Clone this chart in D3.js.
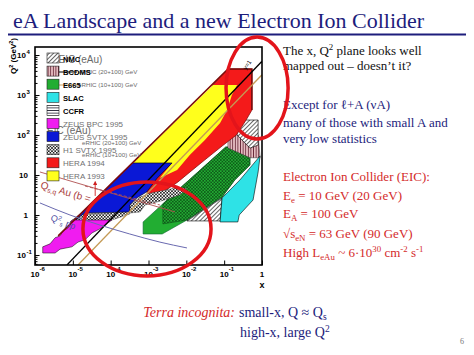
<!DOCTYPE html>
<html><head><meta charset="utf-8">
<script src="https://cdn.jsdelivr.net/npm/d3@7"></script>
<style>body{margin:0;background:#fff;}svg{display:block;}</style>
</head><body>
<svg id="c" width="474" height="355"></svg>
<script>
// ---------------- data ----------------
const xDomain = [1e-6, 1];
const yDomain = [0.0562, 15850];
const xTickValues = [1e-6, 1e-5, 1e-4, 1e-3, 1e-2, 1e-1, 1];
const xTickLabels = [["10","-6"],["10","-5"],["10","-4"],["10","-3"],["10","-2"],["10","-1"],["1",""]];
const yTickValues = [0.1, 1, 10, 100, 1000, 10000];
const yTickLabels = [["10","-1"],["1",""],["10",""],["10","2"],["10","3"],["10","4"]];

const legendLabels = ["NMC","BCDMS","E665","SLAC","CCFR","ZEUS BPC 1995","ZEUS SVTX 1995","H1 SVTX 1995","HERA 1994","HERA 1993"];

// measured regions in (x, Q^2 [GeV^2])
const e665 = [[7.2e-4,0.67],[2.7e-3,2.1],[6e-3,4.2],[0.11,50],[0.48,50],[0.48,17.8],[0.19,7.5],[8.8e-2,2.8],[1.04e-2,0.75],[2.3e-3,0.335],[7.2e-4,0.335]];
const e665Overlap = [[2.4e-3,1.9],[6e-3,4.2],[0.11,50],[0.48,50],[0.48,17.8],[0.19,7.5],[8.8e-2,2.8],[1.04e-2,0.75],[2.4e-3,0.6]];
const nmcLow = [[1.04e-2,0.71],[7.8e-2,0.71],[8.8e-2,2.66]];
const nmcHigh = [[0.22,237],[0.79,237],[0.79,56],[0.48,47],[0.22,100]];
const bcdms = [[0.126,100],[0.79,100],[0.89,27],[0.48,27],[0.126,47]];
const slac = [[7.8e-2,0.67],[8.8e-2,2.66],[0.26,7.5],[0.89,30],[0.79,11.9],[0.58,2.37],[0.33,1.33],[0.25,1.0],[0.23,0.67]];
const hera94 = [[5.1e-2,1780],[0.126,4470],[0.54,4470],[0.54,420],[0.38,237],[0.21,100],[8.8e-2,53],[3.1e-2,24],[1.25e-2,11.9],[6e-3,6.7],[2.7e-3,4.0],[9.7e-4,3.35],[8.1e-4,4.7],[1.7e-3,8.4],[4.2e-3,20]];
const hera93 = [[3.9e-4,20],[5.1e-2,1780],[0.22,1780],[0.16,1000],[0.12,420],[7.8e-2,200],[3.1e-2,75],[1.25e-2,32],[5.7e-3,13.3],[2e-3,8.4],[4.2e-3,20]];
const h1SvtxA = [[8.4e-6,0.67],[1.55e-5,1.06],[1.08e-4,1.12],[1.56e-4,1.5],[3.2e-4,1.58],[3.2e-4,1.06],[1.08e-4,0.75]];
const h1SvtxB = [[3.2e-4,1.12],[3.2e-4,1.78],[6e-4,2.8],[1.1e-3,3.5],[5e-3,4.7],[1.04e-2,4.7],[6.8e-3,3.2],[2.7e-3,2.37],[8.1e-4,1.78],[6e-4,1.19]];
const zeusSvtx = [[8.4e-6,0.56],[3.7e-4,20],[4.2e-3,20],[1.7e-3,8.4],[9.1e-4,3.8],[5e-4,2.7],[3.2e-4,1.78],[3.2e-4,1.19],[2.1e-5,1.12],[1.37e-5,0.84],[1.14e-5,0.67]];
const zeusBpc = [[1.6e-6,0.112],[1.6e-6,0.16],[2.5e-6,0.19],[3.4e-6,0.27],[4.6e-6,0.3],[5.5e-6,0.4],[7.4e-6,0.47],[9.5e-6,0.75],[1.08e-4,0.75],[5.2e-5,0.45],[3.2e-5,0.355],[2.1e-5,0.24],[1.37e-5,0.21],[9.5e-6,0.16],[4.6e-6,0.14],[3.4e-6,0.112]];
const heraEdge = [[4.1e-6,0.3],[0.126,4470],[0.54,4470],[0.54,420]];

const eRHIC20 = [[7e-6,0.0562],[1,7000]];
const eRHIC10 = [[1.37e-5,0.0562],[1,3200]];
const qsPp = [[1.35e-6,2.0],[8.4e-6,1.0],[5.2e-5,0.56],[3.2e-4,0.335],[2e-3,0.21],[1.04e-2,0.15]];
const qsAu = [[1.35e-6,11.9],[5e-3,1.19]];
const qsAuDashed = [[2.1e-5,5.3],[2e-3,1.78]];
const qsArrow = [[3.9e-5,3.0],[3.9e-5,6.3]];
const ellipseHighX = [[0.112,79],[4.9,28000]];
const ellipseSmallX = [[1.85e-5,0.03],[4.5e-2,6.7]];

// ---------------- drawing ----------------
const svg = d3.select("#c");
const SANS = "'Liberation Sans', Arial, sans-serif";
const SERIF = "'Liberation Serif', 'Times New Roman', serif";
const NAVY = "#1d1d7c", RED = "#d42a2a";

const x = d3.scaleLog().domain(xDomain).range([35, 262]);
const y = d3.scaleLog().domain(yDomain).range([265, 47]);
const line = d3.line().x(d => x(d[0])).y(d => y(d[1]));

function rich(t, parts, fs){
  let shift = 0;
  parts.forEach(([s,k]) => {
    const target = k === "sup" ? -0.38*fs : k === "sub" ? 0.22*fs : 0;
    const ts = t.append("tspan").text(s).attr("dy", target - shift);
    if (k) ts.attr("font-size", fs*0.68);
    shift = target;
  });
  return t;
}

const defs = svg.append("defs");
defs.append("clipPath").attr("id","clip").append("rect")
  .attr("x",35).attr("y",47).attr("width",227).attr("height",218);
function hatch(id, bg, stroke, w, size, rot, d){
  const p = defs.append("pattern").attr("id",id).attr("patternUnits","userSpaceOnUse")
    .attr("width",size).attr("height",size);
  if (rot) p.attr("patternTransform","rotate("+rot+")");
  if (bg) p.append("rect").attr("width",size).attr("height",size).attr("fill",bg);
  p.append("path").attr("d",d).attr("stroke",stroke).attr("stroke-width",w).attr("fill","none");
}
hatch("pNMC","#fff","#000",1.2,3,45,"M0,0V3");
hatch("pBCDMS","#e4bcc0","#6a2a3a",0.9,2.6,0,"M1.3,0V2.6");
hatch("pCCFR","#fff","#334",0.9,2.6,0,"M0,1.3H2.6");
hatch("pGreenX",null,"#0c4d16",0.7,3.2,0,"M0,0L3.2,3.2M3.2,0L0,3.2");
{
  const p = defs.append("pattern").attr("id","pChk").attr("patternUnits","userSpaceOnUse")
    .attr("width",3.2).attr("height",3.2);
  p.append("rect").attr("width",3.2).attr("height",3.2).attr("fill","#fff");
  p.append("rect").attr("width",1.6).attr("height",1.6).attr("fill","#222");
  p.append("rect").attr("x",1.6).attr("y",1.6).attr("width",1.6).attr("height",1.6).attr("fill","#222");
}

// Title
svg.append("text").attr("x",13).attr("y",28).attr("font-family",SERIF).attr("font-size",22)
  .attr("fill",NAVY).text("eA Landscape and a new Electron Ion Collider");
svg.append("line").attr("x1",8).attr("x2",466).attr("y1",34.5).attr("y2",34.5)
  .attr("stroke",NAVY).attr("stroke-width",2);

// Plot
const plot = svg.append("g").attr("clip-path","url(#clip)");
plot.append("rect").attr("x",35).attr("y",47).attr("width",227).attr("height",218).attr("fill","#fff");

// legend ghost text (overlapping legends from the original figure)
const ghost = svg.append("g").attr("font-family",SANS).attr("fill","#6a6a6a");
ghost.append("text").attr("x",58.5).attr("y",63).attr("font-size",10).text("EIC (eAu)");
ghost.append("text").attr("x",47).attr("y",134).attr("font-size",10).text("EIC (eAu)");
ghost.append("text").attr("x",78).attr("y",74).attr("font-size",6.2).text("eRHIC (20+100) GeV");
ghost.append("text").attr("x",78).attr("y",87).attr("font-size",6.2).text("eRHIC (10+100) GeV");
ghost.append("text").attr("x",82).attr("y",145).attr("font-size",6.2).text("eRHIC (20+100) GeV");
ghost.append("text").attr("x",82).attr("y",157).attr("font-size",6.2).text("eRHIC (10+100) GeV");
svg.append("line").attr("x1",58).attr("x2",77).attr("y1",72).attr("y2",72).attr("stroke","#000").attr("stroke-width",1);
svg.append("line").attr("x1",58).attr("x2",77).attr("y1",85).attr("y2",85).attr("stroke","#c8a060").attr("stroke-width",1);

function region(data, fill, stroke, sw){
  plot.append("path").attr("d", line(data) + "Z").attr("fill", fill)
    .attr("stroke", stroke || "none").attr("stroke-width", sw || 0.6).attr("stroke-linejoin","round");
}
region(e665, "#22ad32", "#163", 0.6);
region(e665Overlap, "url(#pGreenX)", "#0c4d16", 0.6);
region(bcdms, "url(#pBCDMS)", "#333", 0.5);
region(nmcHigh, "url(#pNMC)", "#000", 0.6);
region(nmcLow, "url(#pNMC)", "#000", 0.6);
region(slac, "#2ee2e6", "#000", 0.6);
region(hera94, "#f41a1a", "#8a1010", 0.8);
region(hera93, "#ffff1c", "none");
region(h1SvtxA, "url(#pChk)", "#333", 0.4);
region(h1SvtxB, "url(#pChk)", "#333", 0.4);
region(zeusSvtx, "#0a18d6", "#000", 0.6);
region(zeusBpc, "#f01cf0", "#000", 0.5);

plot.append("path").attr("d", line(heraEdge)).attr("fill","none").attr("stroke","#7a0c0c").attr("stroke-width",1.6);
plot.append("path").attr("d", line(eRHIC20)).attr("fill","none").attr("stroke","#000").attr("stroke-width",1.3);
plot.append("path").attr("d", line(eRHIC10)).attr("fill","none").attr("stroke","#c49a55").attr("stroke-width",1.3);
plot.append("path").attr("d", d3.line().x(d=>x(d[0])).y(d=>y(d[1])).curve(d3.curveMonotoneX)(qsPp))
  .attr("fill","none").attr("stroke","#6a6ab0").attr("stroke-width",1);
plot.append("path").attr("d", line(qsAu)).attr("fill","none").attr("stroke","#b05050").attr("stroke-width",0.9);
plot.append("path").attr("d", line(qsAuDashed)).attr("fill","none").attr("stroke","#b05050")
  .attr("stroke-width",0.9).attr("stroke-dasharray","3,2");
defs.append("marker").attr("id","arr").attr("viewBox","0 0 6 6").attr("refX",3).attr("refY",3)
  .attr("markerWidth",5).attr("markerHeight",5).attr("orient","auto")
  .append("path").attr("d","M0,0L6,3L0,6Z").attr("fill","#d02020");
plot.append("path").attr("d", line(qsArrow)).attr("stroke","#d02020").attr("stroke-width",0.9)
  .attr("marker-end","url(#arr)");

// curve labels
rich(plot.append("text").attr("font-family",SANS).attr("font-size",10).attr("fill","#a83a3a")
  .attr("transform",`translate(${x(1.35e-6)},${y(4.7)}) rotate(16)`),
  [["Q",null],["s,q","sub"],[" Au (b =",null]], 10);
rich(plot.append("text").attr("font-family",SANS).attr("font-size",9).attr("fill","#4a4aa0")
  .attr("transform",`translate(${x(2.5e-6)},${y(0.75)}) rotate(22)`),
  [["Q",null],["2","sup"],["s","sub"],[" pp",null]], 9);
plot.append("text").attr("font-family",SANS).attr("font-size",6).attr("fill","#000")
  .attr("transform",`translate(${x(0.38)},${y(4200)}) rotate(-55)`).text("y=1");

// Legend
const lg = svg.append("g");
const swatch = {"NMC":"url(#pNMC)","BCDMS":"url(#pBCDMS)","E665":"#22ad32","SLAC":"#2ee2e6","CCFR":"url(#pCCFR)",
  "ZEUS BPC 1995":"#f01cf0","ZEUS SVTX 1995":"#0a18d6","H1 SVTX 1995":"url(#pChk)","HERA 1994":"#f41a1a","HERA 1993":"#ffff1c"};
legendLabels.forEach((lab, i) => {
  const top = 53 + 13.1*i;
  lg.append("rect").attr("x",47).attr("y",top).attr("width",12).attr("height",10)
    .attr("fill",swatch[lab]).attr("stroke","#222").attr("stroke-width",0.6);
  lg.append("text").attr("x",63).attr("y",top+8.5).attr("font-family",SANS)
    .attr("font-size", i < 5 ? 7.6 : 8).attr("font-weight", i < 5 ? "bold" : "normal")
    .attr("fill", i < 5 ? "#000" : "#707070").text(lab);
});

// Axes
const majorX = new Set(xTickValues);
const gx = svg.append("g").attr("transform","translate(0,265)");
gx.call(d3.axisBottom(x).tickValues(x.ticks().filter(v => !majorX.has(v))).tickSize(-2.5).tickFormat(""))
  .call(g => g.select(".domain").remove());
gx.call(d3.axisBottom(x).tickValues(xTickValues).tickSize(-4.5).tickFormat(""))
  .call(g => g.select(".domain").remove());
gx.selectAll("line").attr("stroke","#000").attr("stroke-width",1);
const majorY = new Set(yTickValues);
const gy = svg.append("g").attr("transform","translate(35,0)");
gy.append("g").call(d3.axisLeft(y).tickValues(y.ticks().filter(v => !majorY.has(v))).tickSize(-2.5).tickFormat(""))
  .call(g => g.select(".domain").remove());
gy.append("g").call(d3.axisLeft(y).tickValues(yTickValues).tickSize(-4.5).tickFormat(""))
  .call(g => g.select(".domain").remove());
gy.selectAll("line").attr("stroke","#000").attr("stroke-width",1);

svg.append("rect").attr("x",35).attr("y",47).attr("width",227).attr("height",218)
  .attr("fill","none").attr("stroke","#000").attr("stroke-width",1.6);

const tl = svg.append("g").attr("font-family",SANS).attr("font-weight","bold").attr("fill","#000");
xTickValues.forEach((v,i) => {
  const [b, s] = xTickLabels[i];
  tl.append("text").attr("x", x(v)).attr("y",277).attr("font-size",8).attr("text-anchor","middle").text(b);
  if (s) tl.append("text").attr("x", x(v)+4.6).attr("y",271).attr("font-size",6).text(s);
});
yTickValues.forEach((v,i) => {
  const [b, s] = yTickLabels[i];
  tl.append("text").attr("x", s ? 26 : 28).attr("y", y(v)+3).attr("font-size",8).attr("text-anchor","end").text(b);
  if (s) tl.append("text").attr("x", 26.5).attr("y", y(v)-1).attr("font-size",6).text(s);
});
tl.append("text").attr("x",262).attr("y",288).attr("font-size",9).attr("text-anchor","middle").text("x");
rich(svg.append("text").attr("font-family",SANS).attr("font-weight","bold").attr("font-size",8)
  .attr("text-anchor","middle").attr("transform","translate(16,56) rotate(-90)"),
  [["Q",null],["2","sup"],[" (GeV",null],["2","sup"],[")",null]], 8);

// Right-hand text
const R = svg.append("g").attr("font-family",SERIF).attr("font-size",13);
const rl = (yy, col, parts) => rich(R.append("text").attr("x",283).attr("y",yy).attr("fill",col), parts, 13);
rl(55, "#111", [["The x, Q",null],["2","sup"],[" plane looks well",null]]);
rl(70, "#111", [["mapped out \u2013 doesn\u2019t it?",null]]);
rl(109, NAVY, [["Except for \u2113+A (\u03bdA)",null]]);
rl(127, NAVY, [["many of those with small A and",null]]);
rl(143, NAVY, [["very low statistics",null]]);
rl(181, RED, [["Electron Ion Collider (EIC):",null]]);
rl(200, RED, [["E",null],["e","sub"],[" = 10 GeV (20 GeV)",null]]);
rl(218, RED, [["E",null],["A","sub"],[" = 100 GeV",null]]);
rl(238, RED, [["\u221as",null],["eN","sub"],[" = 63 GeV (90 GeV)",null]]);
rl(257, RED, [["High L",null],["eAu","sub"],[" ~ 6\u00b710",null],["30","sup"],[" cm",null],["-2","sup"],[" s",null],["-1","sup"]]);

// Bottom text
svg.append("text").attr("x",235).attr("y",317).attr("text-anchor","end").attr("font-family",SERIF)
  .attr("font-size",14).attr("font-style","italic").attr("fill",RED).text("Terra incognita:");
rich(svg.append("text").attr("x",239).attr("y",317).attr("font-family",SERIF).attr("font-size",14).attr("fill",NAVY),
  [["small-x, Q \u2248 Q",null],["s","sub"]], 14);
rich(svg.append("text").attr("x",240).attr("y",337).attr("font-family",SERIF).attr("font-size",14).attr("fill",NAVY),
  [["high-x, large Q",null],["2","sup"]], 14);
svg.append("text").attr("x",460).attr("y",344).attr("font-family",SERIF).attr("font-size",8).attr("fill","#777").text("6");

// Annotation ellipses
function ell(b){
  const x0 = x(b[0][0]), x1 = x(b[1][0]), y0 = y(b[0][1]), y1 = y(b[1][1]);
  svg.append("ellipse").attr("cx",(x0+x1)/2).attr("cy",(y0+y1)/2)
    .attr("rx",Math.abs(x1-x0)/2).attr("ry",Math.abs(y1-y0)/2)
    .attr("fill","none").attr("stroke","#e3141b").attr("stroke-width",3.5);
}
ell(ellipseHighX);
ell(ellipseSmallX);
</script>
</body></html>
